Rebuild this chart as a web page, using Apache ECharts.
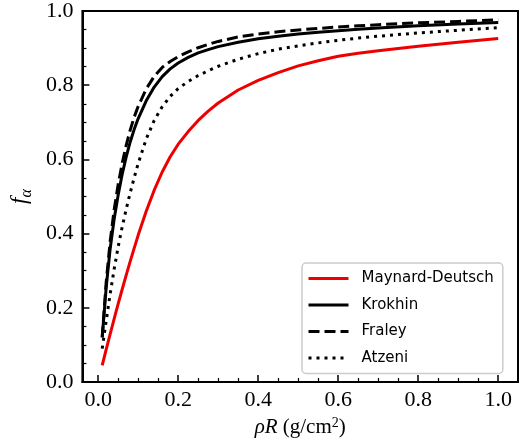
<!DOCTYPE html>
<html>
<head>
<meta charset="utf-8">
<script src="https://cdn.jsdelivr.net/npm/echarts@6/dist/echarts.min.js"></script>
<style>
  html, body { margin: 0; padding: 0; background: #fff; }
  #main { width: 520px; height: 443px; }
</style>
</head>
<body>
<div id="main"></div>
<script>
// rhoR grid (g/cm^2) and alpha deposition fraction
var rhoR = [0.01, 0.02, 0.03, 0.04, 0.05, 0.06, 0.07, 0.08, 0.09, 0.10,
            0.12, 0.14, 0.16, 0.18, 0.20, 0.225, 0.25, 0.275, 0.30, 0.35,
            0.40, 0.45, 0.50, 0.55, 0.60, 0.65, 0.70, 0.80, 0.90, 1.00];

var maynardDeutsch = [0.045, 0.088, 0.13, 0.171, 0.211, 0.25, 0.288, 0.325, 0.361, 0.396,
                      0.46, 0.517, 0.566, 0.607, 0.641, 0.675, 0.705, 0.73, 0.752, 0.787,
                      0.813, 0.834, 0.852, 0.866, 0.878, 0.886, 0.893, 0.905, 0.916, 0.926];
var krokhin = [0.12, 0.255, 0.36, 0.44, 0.505, 0.56, 0.607, 0.647, 0.681, 0.71,
               0.758, 0.795, 0.823, 0.844, 0.86, 0.875, 0.887, 0.896, 0.904, 0.916,
               0.925, 0.932, 0.938, 0.943, 0.947, 0.951, 0.954, 0.96, 0.965, 0.969];
var fraley = [0.12, 0.27, 0.38, 0.465, 0.533, 0.59, 0.638, 0.679, 0.714, 0.743,
              0.79, 0.824, 0.848, 0.864, 0.877, 0.89, 0.901, 0.91, 0.918, 0.93,
              0.938, 0.944, 0.949, 0.953, 0.957, 0.96, 0.963, 0.968, 0.972, 0.976];
var atzeni = [0.09, 0.165, 0.238, 0.305, 0.365, 0.418, 0.466, 0.51, 0.551, 0.589,
              0.655, 0.705, 0.742, 0.77, 0.791, 0.81, 0.826, 0.839, 0.851, 0.87,
              0.885, 0.897, 0.906, 0.914, 0.921, 0.927, 0.932, 0.941, 0.948, 0.955];

var xMajor = [0.0, 0.2, 0.4, 0.6, 0.8, 1.0];
var xMinor = [0.05, 0.1, 0.15, 0.25, 0.3, 0.35, 0.45, 0.5, 0.55, 0.65, 0.7, 0.75, 0.85, 0.9, 0.95];

var serif = 'Liberation Serif';
var sans = 'DejaVu Sans';

function pairs(ys) {
    return rhoR.map(function (x, i) { return [x, ys[i]]; });
}

var myChart = echarts.init(document.getElementById('main'));

var lineBase = { type: 'line', symbol: 'none', smooth: false, xAxisIndex: 0, yAxisIndex: 0 };

var option = {
    animation: false,
    backgroundColor: '#fff',
    grid: {
        left: 71, right: 2, top: 7, bottom: 61,
        show: true, borderColor: '#000', borderWidth: 2
    },
    legend: {
        orient: 'vertical',
        left: 302, top: 263,
        padding: [8, 9, 8, 5],
        itemGap: 11.5,
        itemWidth: 40, itemHeight: 14,
        itemStyle: { opacity: 0 },
        lineStyle: { width: 3 },
        backgroundColor: '#fff',
        borderColor: '#cccccc', borderWidth: 1.5, borderRadius: 4,
        textStyle: { fontFamily: sans, fontSize: 15, color: '#000', padding: [0, 0, 0, 8] },
        data: ['Maynard-Deutsch', 'Krokhin', 'Fraley', 'Atzeni']
    },
    xAxis: [
        {
            type: 'value', min: -0.0395, max: 1.0495,
            axisLine: { onZero: false, lineStyle: { color: '#000', width: 2 } },
            axisTick: { inside: true, length: 7, customValues: xMajor, lineStyle: { color: '#000', width: 1.5 } },
            axisLabel: {
                customValues: xMajor, margin: 7,
                fontFamily: serif, fontSize: 22, color: '#000',
                formatter: function (v) { return v.toFixed(1); }
            },
            splitLine: { show: false },
            name: '{i|ρR} (g/cm{s|2})',
            nameLocation: 'middle', nameGap: 33,
            nameTextStyle: {
                fontFamily: serif, fontSize: 21, color: '#000',
                rich: {
                    i: { fontFamily: serif, fontStyle: 'italic', fontSize: 21, color: '#000' },
                    s: { fontFamily: serif, fontSize: 14, color: '#000', verticalAlign: 'bottom', padding: [0, 0, 9, 0] }
                }
            }
        },
        {
            type: 'value', min: -0.0395, max: 1.0495, position: 'bottom',
            axisLine: { show: false, onZero: false },
            axisTick: { inside: true, length: 4, customValues: xMinor, lineStyle: { color: '#000', width: 1.2 } },
            axisLabel: { show: false },
            splitLine: { show: false }
        }
    ],
    yAxis: {
        type: 'value', min: 0, max: 1, interval: 0.2,
        axisLine: { show: true, onZero: false, lineStyle: { color: '#000', width: 2 } },
        axisTick: { show: true, inside: true, length: 7, lineStyle: { color: '#000', width: 1.5 } },
        minorTick: { show: true, splitNumber: 4, length: 4, lineStyle: { color: '#000', width: 1.2 } },
        axisLabel: {
            margin: 9, fontFamily: serif, fontSize: 22, color: '#000',
            formatter: function (v) { return v.toFixed(1); }
        },
        splitLine: { show: false },
        name: '{f|f}{a|α}',
        nameLocation: 'middle', nameGap: 45, nameRotate: 90,
        nameTextStyle: {
            color: '#000',
            rich: {
                f: { fontFamily: serif, fontStyle: 'italic', fontSize: 23, color: '#000' },
                a: { fontFamily: serif, fontStyle: 'italic', fontSize: 16, color: '#000', verticalAlign: 'bottom', padding: [0, 0, -4, 0] }
            }
        }
    },
    series: [
        Object.assign({}, lineBase, {
            name: 'Maynard-Deutsch', data: pairs(maynardDeutsch),
            lineStyle: { color: '#ee0000', width: 3 }, itemStyle: { color: '#ee0000' }
        }),
        Object.assign({}, lineBase, {
            name: 'Krokhin', data: pairs(krokhin),
            lineStyle: { color: '#000', width: 3 }, itemStyle: { color: '#000' }
        }),
        Object.assign({}, lineBase, {
            name: 'Fraley', data: pairs(fraley),
            lineStyle: { color: '#000', width: 3, type: [11, 5] }, itemStyle: { color: '#000' }
        }),
        Object.assign({}, lineBase, {
            name: 'Atzeni', data: pairs(atzeni),
            lineStyle: { color: '#000', width: 3, type: [3, 5] }, itemStyle: { color: '#000' }
        })
    ]
};
myChart.setOption(option);
</script>
</body>
</html>
